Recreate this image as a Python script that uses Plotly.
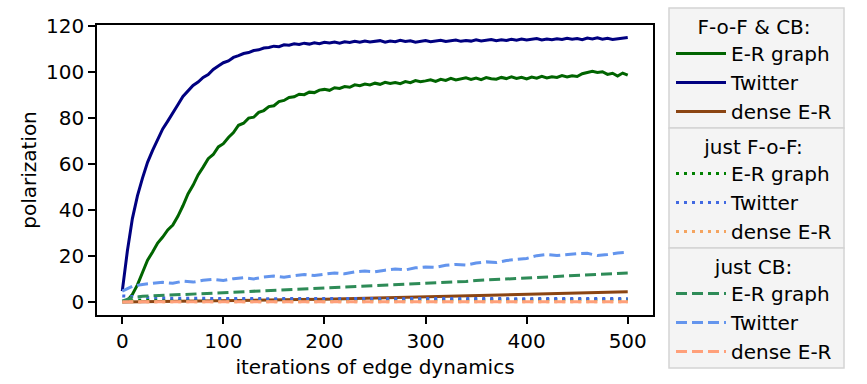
import plotly.graph_objects as go

# ---------------- data ----------------
iters_fine = list(range(0, 501, 5))
iters_mid = list(range(0, 501, 10))
iters_coarse = list(range(0, 501, 25))

fofcb_er = [0.0, 0.6, 3.2, 7.4, 12.8, 18.1, 21.7, 25.6, 28.2, 31.3, 33.4, 37.2, 41.8, 46.9, 50.7, 55.2,
            58.6, 62.3, 64.1, 67.4, 68.8, 71.5, 73.6, 76.8, 77.7, 79.9, 80.3, 82.4, 83.2, 84.9, 85.3,
            87.1, 87.6, 88.9, 89.2, 90.3, 90.1, 91.2, 91.0, 92.1, 92.4, 92.0, 93.1, 92.8, 93.6, 93.3,
            94.4, 94.0, 94.7, 94.3, 95.1, 94.6, 95.5, 95.0, 95.4, 94.9, 95.8, 95.3, 96.2, 95.7, 96.1,
            96.6, 95.9, 96.8, 96.3, 97.2, 96.5, 96.9, 97.4, 96.7, 97.3, 96.6, 97.5, 97.0, 96.8, 97.6,
            97.1, 97.9, 97.2, 97.7, 97.0, 97.8, 97.3, 98.1, 97.4, 97.9, 97.6, 98.4, 97.8, 98.3, 98.0,
            99.2, 99.6, 100.3, 99.8, 100.1, 98.9, 99.4, 98.2, 99.5, 98.6]
fofcb_tw = [4.7, 22.0, 36.2, 46.1, 53.8, 60.7, 65.9, 70.8, 75.2, 78.6, 82.4, 85.7, 89.3, 91.8, 94.1,
            95.6, 97.6, 98.9, 101.1, 102.6, 104.0, 104.8, 106.3, 107.1, 108.0, 108.4, 109.3, 109.6,
            110.4, 110.6, 111.2, 111.0, 111.8, 111.6, 112.2, 111.9, 112.5, 112.1, 112.7, 112.3, 112.9,
            112.6, 113.0, 112.5, 113.1, 112.8, 113.3, 112.9, 113.4, 113.0, 113.2, 113.6, 112.9, 113.4,
            113.1, 113.7, 113.2, 113.5, 112.9, 113.3, 113.6, 113.1, 113.5, 113.8, 113.2, 113.6, 113.9,
            113.3, 113.7, 113.4, 114.0, 113.5, 113.8, 114.1, 113.6, 114.0, 113.7, 114.2, 113.8, 114.3,
            113.9, 114.1, 114.5, 113.9, 114.3, 114.0, 114.4, 114.1, 114.6, 114.2, 114.5, 114.0, 114.7,
            114.3, 114.8, 114.2, 114.6, 114.1, 114.3, 114.7, 115.0]
fofcb_dense = [0.0, 0.1, 0.2, 0.35, 0.5, 0.65, 0.85, 1.0, 1.2, 1.45, 1.7, 1.95, 2.2, 2.5, 2.75, 3.0,
               3.3, 3.6, 3.85, 4.1, 4.4]

fof_er = [0.3, 0.8, 0.7, 0.8, 0.9, 0.8, 0.9, 0.9, 0.8, 0.9, 1.0, 0.9, 1.0, 0.9, 1.0, 1.0, 0.9, 1.0,
          1.0, 0.9, 1.0]
fof_tw = [2.6, 1.9, 1.6, 1.5, 1.4, 1.5, 1.4, 1.5, 1.4, 1.5, 1.5, 1.4, 1.5, 1.4, 1.5, 1.5, 1.4, 1.5,
          1.5, 1.4, 1.5]
fof_dense = [0.1, 0.1, 0.1, 0.1, 0.1, 0.1, 0.1, 0.1, 0.1, 0.1, 0.1, 0.1, 0.1, 0.1, 0.1, 0.1, 0.1,
             0.1, 0.1, 0.1, 0.1]

cb_er = [0.3, 1.9, 2.4, 2.6, 2.9, 3.0, 3.3, 3.4, 3.6, 3.9, 4.1, 4.3, 4.6, 4.7, 5.0, 5.1, 5.4, 5.5,
         5.7, 5.9, 6.0, 6.2, 6.4, 6.5, 6.8, 6.9, 7.1, 7.4, 7.5, 7.9, 8.1, 8.2, 8.5, 8.8, 8.9, 9.3,
         9.5, 9.7, 10.0, 10.1, 10.3, 10.6, 10.8, 11.1, 11.3, 11.5, 11.7, 11.9, 12.0, 12.3, 12.6]
cb_tw = [4.7, 6.8, 7.6, 7.9, 8.5, 8.1, 9.0, 8.6, 9.4, 9.8, 9.3, 10.1, 10.5, 10.0, 10.8, 11.2, 10.7,
         11.4, 11.9, 11.5, 12.2, 12.6, 12.2, 13.0, 13.4, 13.1, 13.8, 14.3, 13.9, 14.8, 15.2, 15.0,
         15.9, 16.3, 16.0, 16.9, 17.4, 17.1, 18.0, 18.4, 18.9, 20.1, 20.6, 20.2, 20.7, 21.0, 21.1,
         20.2, 20.6, 21.3, 21.6]
cb_dense = [0.1, 0.1, 0.1, 0.1, 0.1, 0.1, 0.1, 0.1, 0.1, 0.1, 0.1, 0.1, 0.1, 0.1, 0.1, 0.1, 0.1,
            0.1, 0.1, 0.1, 0.1]

group_titles = ["F-o-F & CB:", "just F-o-F:", "just CB:"]
names = ["E-R graph", "Twitter", "dense E-R"]

# ---------------- figure ----------------
FONT = "DejaVu Sans"
W, H = 867, 384
L, R, T, B = 97, 214, 25, 69
PW, PH = W - L - R, H - T - B

def px_x(p):
    return (p - L) / PW

def px_y(p):
    return (H - B - p) / PH

DOT = "3px,5px"
DASH = "11px,5px"
series = [
    (iters_fine, fofcb_er, "#006400", "solid", "legend", names[0]),
    (iters_fine, fofcb_tw, "#000080", "solid", "legend", names[1]),
    (iters_coarse, fofcb_dense, "#8B4513", "solid", "legend", names[2]),
    (iters_coarse, fof_er, "#008000", DOT, "legend2", names[0]),
    (iters_coarse, fof_tw, "#4169E1", DOT, "legend2", names[1]),
    (iters_coarse, fof_dense, "#F4A460", DOT, "legend2", names[2]),
    (iters_mid, cb_er, "#2E8B57", DASH, "legend3", names[0]),
    (iters_mid, cb_tw, "#6495ED", DASH, "legend3", names[1]),
    (iters_coarse, cb_dense, "#FFA07A", DASH, "legend3", names[2]),
]

fig = go.Figure()
for xs, ys, col, dash, leg, nm in series:
    fig.add_trace(go.Scatter(x=xs, y=ys, mode="lines", name=nm, legend=leg,
                             line=dict(color=col, width=3, dash=dash)))

box_tops = [8, 128, 248]
box_h = 120
shapes = []
for bt in box_tops:
    shapes.append(dict(type="rect", xref="paper", yref="paper",
                       x0=px_x(669), x1=px_x(844), y0=px_y(bt + box_h), y1=px_y(bt),
                       fillcolor="#f4f4f4", line=dict(color="#d4d4d4", width=1.5), layer="below"))

leg_common = dict(font=dict(family=FONT, size=20, color="black"), bgcolor="rgba(0,0,0,0)",
                  borderwidth=0, xanchor="left", yanchor="top", itemwidth=50,
                  tracegroupgap=0)
layout_legends = {}
for i, (key, bt) in enumerate(zip(["legend", "legend2", "legend3"], box_tops)):
    layout_legends[key] = dict(leg_common, x=px_x(671), y=px_y(bt),
                               title=dict(text=group_titles[i], side="top center",
                                          font=dict(family=FONT, size=20, color="black")))

fig.update_layout(
    width=W, height=H,
    margin=dict(l=L, r=R, t=T, b=B, autoexpand=False),
    paper_bgcolor="white", plot_bgcolor="white",
    font=dict(family=FONT, size=20, color="black"),
    shapes=shapes,
    showlegend=True,
    **layout_legends,
)
fig.update_xaxes(range=[-25, 525], tickvals=[0, 100, 200, 300, 400, 500],
                 showgrid=False, zeroline=False, showline=True, linecolor="black", linewidth=1.6,
                 mirror=True, ticks="outside", ticklen=7, tickwidth=1.6, tickcolor="black",
                 tickfont=dict(family=FONT, size=20, color="black"),
                 title=dict(text="iterations of edge dynamics", standoff=8,
                            font=dict(family=FONT, size=20, color="black")))
fig.update_yaxes(range=[-5.7, 120.4], tickvals=[0, 20, 40, 60, 80, 100, 120],
                 showgrid=False, zeroline=False, showline=True, linecolor="black", linewidth=1.6,
                 mirror=True, ticks="outside", ticklen=7, tickwidth=1.6, tickcolor="black",
                 tickfont=dict(family=FONT, size=20, color="black"),
                 title=dict(text="polarization", standoff=4,
                            font=dict(family=FONT, size=20, color="black")))

fig.write_html("out.html", config={"displayModeBar": False},
               post_script="document.body.style.margin='0px';")
